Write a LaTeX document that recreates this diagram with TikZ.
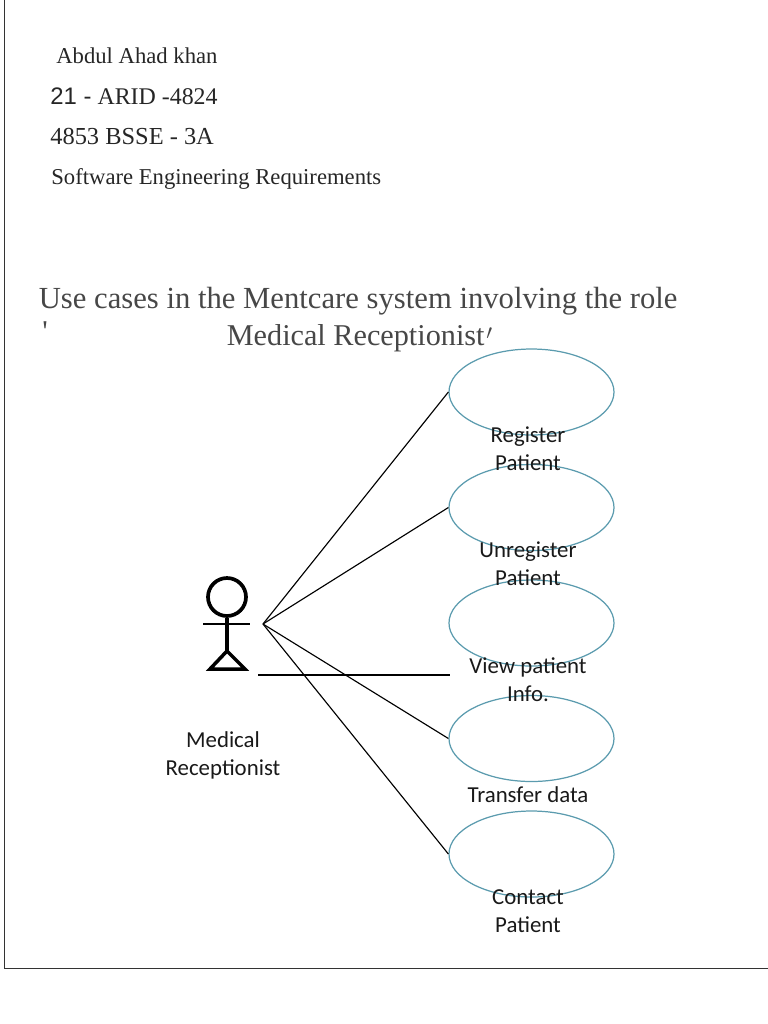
\documentclass[tikz,border=0pt]{standalone}
\usepackage{fontspec}
\setmainfont{Liberation Serif}
\newfontfamily\labelfont{Carlito}
\newfontfamily\armfont{Liberation Sans}
\newfontfamily\tickfont{Liberation Serif}
\usepackage{xcolor}
\usetikzlibrary{shapes.geometric, positioning, calc}
\definecolor{ucblue}{HTML}{5B9BAE}
\tikzset{
    ucase/.style={ellipse, draw=ucblue, line width=0.7pt, minimum width=3.3cm,
                  minimum height=1.72cm, inner sep=0pt},
    ulabel/.style={font=\labelfont\fontsize{13}{15.9}\selectfont, align=center,
                   text=black!90, inner sep=0pt},
    hline/.style={font=\fontsize{12.9}{15}\selectfont, anchor=base west,
                  text=black!85, inner sep=0pt},
    tline/.style={font=\fontsize{17.2}{21}\selectfont, text=black!72, inner sep=0pt},
    lnk/.style={draw=black, line width=0.65pt},
    limb/.style={draw=black, line width=2pt}
}

\begin{document}
\begin{tikzpicture}
\useasboundingbox (0,0) rectangle (15.36,-20.48);
% ── Page frame ────────────────────────────────────────────────────────
\coordinate (ftop) at (0.09,0);
\coordinate (fcorner) at (0.09,-19.36);
\coordinate (fright) at (15.36,-19.36);
\draw[draw=black!80, line width=0.5pt] (ftop) -- (fcorner) -- (fright);

% ── Header lines ──────────────────────────────────────────────────────
\node[hline] at (1.12,-1.26) (name) {Abdul Ahad khan};
\node[hline, font=\fontsize{13.6}{15}\selectfont] at (1.0,-2.08) (reg) {{\armfont 21 -} ARID -4824};
\node[hline, font=\fontsize{13.9}{15}\selectfont] at (1.0,-2.89) (cls) {4853 BSSE - 3A};
\node[hline] at (1.02,-3.68) (course) {Software Engineering Requirements};

% ── Title ─────────────────────────────────────────────────────────────
\node[tline, font=\fontsize{17.45}{21}\selectfont, anchor=base west] at (0.77,-6.17) (title) {Use cases in the Mentcare system involving the role};
\node[tline, anchor=base west] at (4.53,-6.91) (role) {Medical Receptionist};
\node[tline, anchor=base west] at (9.72,-7.02) (tick) {\smash{$'$}};
\node[tline, anchor=base west] at (0.84,-6.82) (ltick) {\tickfont\char39};

% ── Use cases ─────────────────────────────────────────────────────────
\node[ucase] at (10.63,-7.84)  (regp)   {};
\node[ucase] at (10.63,-10.15) (unreg)  {};
\node[ucase] at (10.63,-12.46) (view)   {};
\node[ucase] at (10.63,-14.77) (trans)  {};
\node[ucase] at (10.63,-17.08) (contact) {};

\node[ulabel] at (10.56,-8.97)  (lregp)   {Register\\Patient};
\node[ulabel] at (10.56,-11.28) (lunreg)  {Unregister\\Patient};
\node[ulabel] at (10.56,-13.59) (lview)   {View patient\\Info.};
\node[ulabel] at (10.56,-15.9)  (ltrans)  {Transfer data};
\node[ulabel] at (10.56,-18.22) (lcontact) {Contact\\Patient};

% ── Actor ─────────────────────────────────────────────────────────────
\node[circle, draw=black, line width=2.1pt, minimum size=0.76cm, inner sep=0pt] at (4.54,-11.94) (head) {};
\coordinate (hip) at (4.54,-13.02);
\coordinate (footl) at (4.2,-13.38);
\coordinate (footr) at (4.9,-13.38);
\coordinate (handl) at (4.06,-12.48);
\coordinate (handr) at (5.0,-12.48);
\draw[limb] (head.south) -- (hip);
\draw[limb, line join=miter] (hip) -- (footl) -- (footr) -- cycle;
\draw[draw=black, line width=1.1pt] (handl) -- (handr);
\node[ulabel] at (4.46,-15.11) (lactor) {Medical\\Receptionist};

% ── Connectors ────────────────────────────────────────────────────────
\coordinate (hub) at (5.26,-12.48);
\coordinate (barl) at (5.16,-13.5);
\coordinate (barr) at (9.0,-13.5);
\draw[lnk] (hub) -- (regp.west);
\draw[lnk] (hub) -- (unreg.west);
\draw[lnk] (hub) -- (trans.west);
\draw[lnk] (hub) -- (contact.west);
\draw[lnk] (barl) -- (barr);
\end{tikzpicture}
\end{document}
